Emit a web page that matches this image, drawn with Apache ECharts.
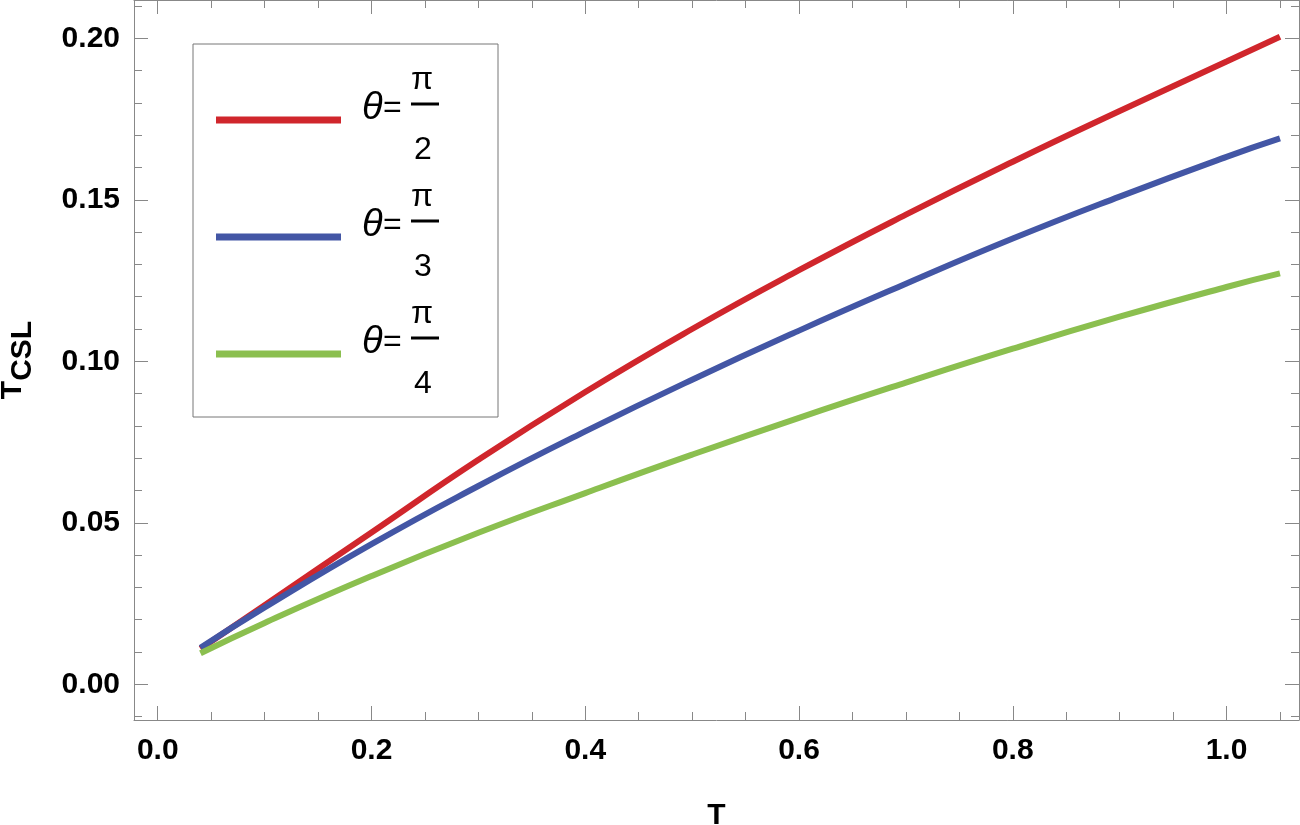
<!DOCTYPE html>
<html>
<head>
<meta charset="utf-8">
<script src="https://cdn.jsdelivr.net/npm/echarts@6/dist/echarts.min.js"></script>
<style>
    html, body { margin: 0; padding: 0; background: #fff; }
    #container { width: 1300px; height: 825px; }
</style>
</head>
<body>
<div id="container"></div>
<script>
    // 数据
    let tValues = [0.04, 0.1, 0.2, 0.3, 0.4, 0.5, 0.6, 0.7, 0.8, 0.9, 1.0, 1.05];
    let tcslHalf = [0.0110, 0.0245, 0.0470, 0.0695, 0.0905, 0.1100, 0.1282, 0.1454, 0.1618, 0.1775, 0.1928, 0.2005];
    let tcslThird = [0.0113, 0.0238, 0.0434, 0.0614, 0.0783, 0.0943, 0.1095, 0.1240, 0.1380, 0.1510, 0.1633, 0.1690];
    let tcslQuarter = [0.0096, 0.0190, 0.0335, 0.0469, 0.0592, 0.0711, 0.0825, 0.0934, 0.1039, 0.1138, 0.1230, 0.1272];
    let seriesNames = ['θ=π/2', 'θ=π/3', 'θ=π/4'];
    let seriesColors = ['#d0262c', '#4356a5', '#8bbf4f'];

    let xMajor = [0.0, 0.2, 0.4, 0.6, 0.8, 1.0];
    let xMinor = [0.05, 0.1, 0.15, 0.25, 0.3, 0.35, 0.45, 0.5, 0.55, 0.65, 0.7, 0.75, 0.85, 0.9, 0.95, 1.05];
    let yMajor = [0.00, 0.05, 0.10, 0.15, 0.20];
    let yMinor = [-0.01, 0.01, 0.02, 0.03, 0.04, 0.06, 0.07, 0.08, 0.09, 0.11, 0.12, 0.13, 0.14, 0.16, 0.17, 0.18, 0.19, 0.21];

    let xMin = -0.0222, xMax = 1.0678;
    let yMin = -0.01105, yMax = 0.21186;
    let frameColor = '#888';
    let labelFont = {
        fontFamily: 'Liberation Sans',
        fontWeight: 'bold',
        fontSize: 30,
        color: '#000'
    };

    function toPairs(ys) {
        return tValues.map(function(t, i) { return [t, ys[i]]; });
    }

    // 构造坐标轴: 主刻度 + 次刻度, 四边都有
    function makeX(position, ticks, len, main) {
        return {
            type: 'value',
            position: position,
            min: xMin,
            max: xMax,
            axisLine: { show: main, onZero: false, lineStyle: { color: frameColor, width: 1 } },
            axisTick: { show: true, inside: true, length: len, customValues: ticks, lineStyle: { color: frameColor, width: 1 } },
            axisLabel: main && position === 'bottom' ? {
                show: true, margin: 16, customValues: xMajor,
                formatter: function(v) { return v.toFixed(1); }
            } : { show: false },
            splitLine: { show: false }
        };
    }

    function makeY(position, ticks, len, main) {
        return {
            type: 'value',
            position: position,
            min: yMin,
            max: yMax,
            axisLine: { show: main, onZero: false, lineStyle: { color: frameColor, width: 1 } },
            axisTick: { show: true, inside: true, length: len, customValues: ticks, lineStyle: { color: frameColor, width: 1 } },
            axisLabel: main && position === 'left' ? {
                show: true, margin: 14, customValues: yMajor,
                formatter: function(v) { return v.toFixed(2); }
            } : { show: false },
            splitLine: { show: false }
        };
    }

    let xAxes = [
        makeX('bottom', xMajor, 14, true),
        makeX('bottom', xMinor, 8, false),
        makeX('top', xMajor, 14, true),
        makeX('top', xMinor, 8, false)
    ];
    xAxes[0].axisLabel = Object.assign(xAxes[0].axisLabel, labelFont);
    xAxes[0].name = 'T';
    xAxes[0].nameLocation = 'middle';
    xAxes[0].nameGap = 81;
    xAxes[0].nameTextStyle = labelFont;

    let yAxes = [
        makeY('left', yMajor, 14, true),
        makeY('left', yMinor, 8, false),
        makeY('right', yMajor, 14, true),
        makeY('right', yMinor, 8, false)
    ];
    yAxes[0].axisLabel = Object.assign(yAxes[0].axisLabel, labelFont);
    yAxes[0].name = '{a|T}{b|CSL}';
    yAxes[0].nameLocation = 'middle';
    yAxes[0].nameRotate = 90;
    yAxes[0].nameGap = 106;
    yAxes[0].nameTextStyle = {
        rich: {
            a: Object.assign({ lineHeight: 30 }, labelFont),
            b: Object.assign({ lineHeight: 30, padding: [20, 0, 0, 0] }, labelFont)
        }
    };

    let seriesData = [tcslHalf, tcslThird, tcslQuarter].map(function(ys, i) {
        return {
            name: seriesNames[i],
            type: 'line',
            xAxisIndex: 0,
            yAxisIndex: 0,
            smooth: true,
            showSymbol: false,
            lineStyle: { color: seriesColors[i], width: 6 },
            itemStyle: { color: seriesColors[i] },
            data: toPairs(ys)
        };
    });

    let legendFont = { fontFamily: 'Liberation Sans', fontSize: 32, color: '#000' };

    let option = {
        animation: false,
        backgroundColor: '#fff',
        grid: {
            left: 134,
            right: 1,
            top: 0,
            bottom: 105,
            outerBoundsMode: 'none'
        },
        legend: {
            left: 193,
            top: 44,
            orient: 'vertical',
            icon: 'rect',
            itemWidth: 125,
            itemHeight: 7,
            itemGap: 3,
            padding: [8, 59, 17, 23],
            borderColor: '#777',
            borderWidth: 1,
            itemStyle: { borderWidth: 0 },
            textStyle: {
                padding: [0, 0, 0, 16],
                rich: {
                    gap: { lineHeight: 12 },
                    sp: { width: 49, lineHeight: 32 },
                    spd: { width: 52, lineHeight: 76 },
                    pi: Object.assign({ lineHeight: 32 }, legendFont),
                    th: Object.assign({}, legendFont, { width: 21, lineHeight: 16, padding: [9, 0, 0, 0], fontStyle: 'italic', fontSize: 38 }),
                    eq: Object.assign({}, legendFont, { width: 28, lineHeight: 16, padding: [9, 0, 0, 0] }),
                    bar: { width: 28, height: 3, lineHeight: 16, backgroundColor: '#000' },
                    den: Object.assign({ lineHeight: 76 }, legendFont)
                }
            },
            formatter: function(name) {
                let den = name.split('/')[1];
                return '{gap|}\n{sp|}{pi|π}\n{th|θ}{eq|=}{bar|}\n{spd|}{den|' + den + '}';
            },
            data: seriesNames
        },
        xAxis: xAxes,
        yAxis: yAxes,
        series: seriesData
    };

    let myChart = echarts.init(document.getElementById('container'));
    myChart.setOption(option);
</script>
</body>
</html>
